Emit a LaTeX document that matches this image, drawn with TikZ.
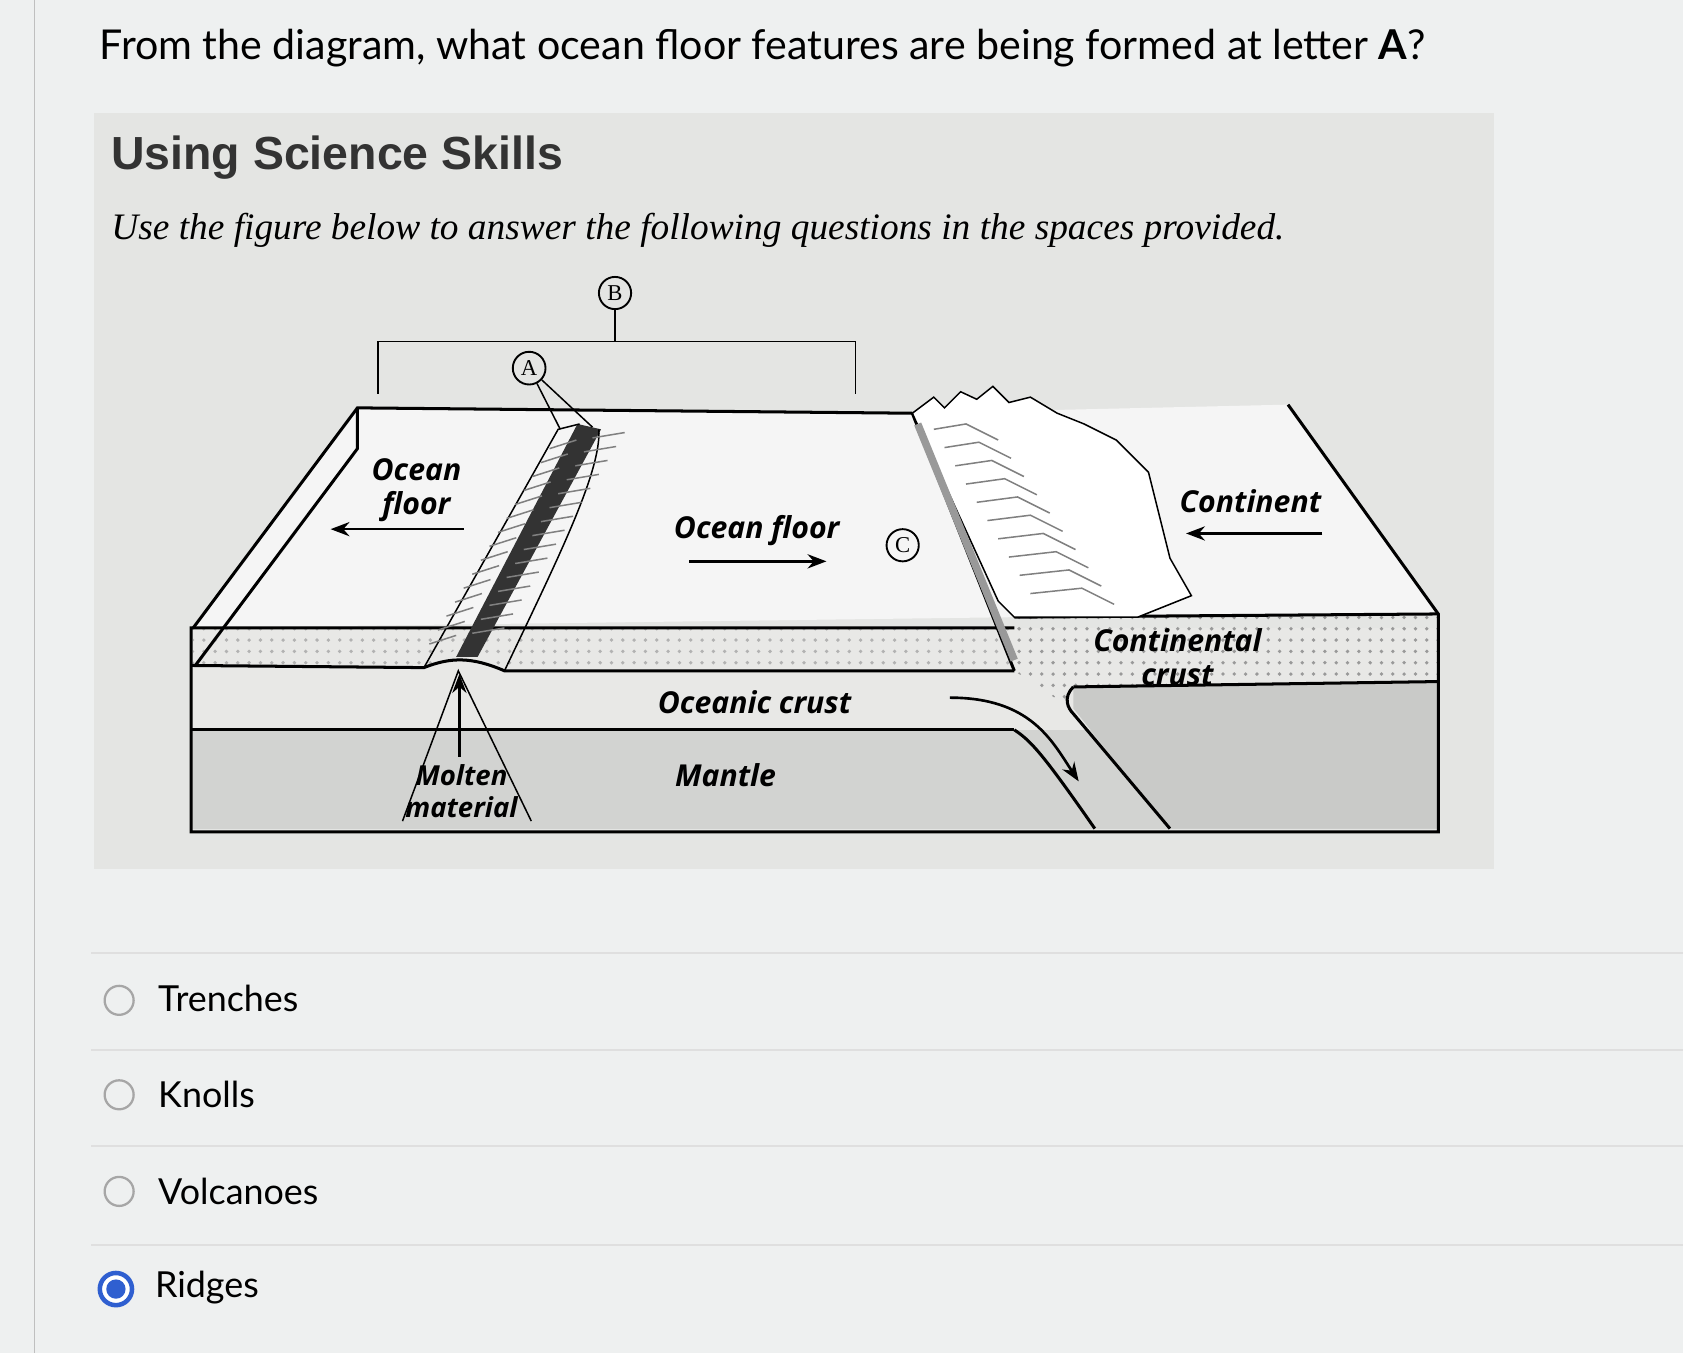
\documentclass[tikz,border=0pt]{standalone}
\usepackage{fontspec}
\setmainfont{Lato}
\newfontfamily\serifit{Liberation Serif}
\newfontfamily\lab{Open Sans}
\newfontfamily\heads{Liberation Sans}
\usetikzlibrary{arrows.meta,patterns}
\definecolor{pagebg}{HTML}{EEF0F0}
\definecolor{panel}{HTML}{E4E5E3}
\definecolor{mantle}{HTML}{D2D3D1}
\definecolor{crust}{HTML}{E8E8E6}
\definecolor{litho}{HTML}{C9CAC8}
\definecolor{radio}{HTML}{2F5FD0}
\tikzset{
 lbl/.style={font=\lab\fontsize{8}{9}\selectfont\bfseries\itshape, align=center, inner sep=1pt},
 circlbl/.style={circle, draw, line width=0.5pt, inner sep=1pt, minimum size=0.3cm, font=\serifit\fontsize{6}{6}\selectfont},
 opt/.style={font=\fontsize{9.5}{10}\selectfont, anchor=west},
 radioc/.style={circle, draw=gray!70, line width=0.6pt, minimum size=0.27cm, inner sep=0pt},
 sep/.style={draw=gray!25, line width=0.5pt},
 edge/.style={line width=0.8pt},
 arr/.style={-{Stealth[length=5pt]}, line width=0.7pt}
}
\begin{document}
\begin{tikzpicture}[x=0.01cm,y=-0.01cm]
\useasboundingbox (0,0) rectangle (1568,1261);
\fill[pagebg] (0,0) rectangle (1568,1261);
\draw[gray!50] (32,0) -- (32,1261);
\node[anchor=west, inner sep=0pt, font=\fontsize{10.9}{12}\selectfont] (q) at (92,45) {From the diagram, what ocean floor features are being formed at letter \textbf{A}?};
\fill[panel] (88,105) rectangle (1392,810);
\node[anchor=west, inner sep=0pt, font=\heads\fontsize{12.3}{14}\selectfont\bfseries, text=black!80] (h) at (103,147) {Using Science Skills};
\node[anchor=west, inner sep=0pt, font=\serifit\fontsize{9.9}{12}\selectfont\itshape] (s) at (103,215) {Use the figure below to answer the following questions in the spaces provided.};
% B bracket
\node[circlbl] (B) at (573,273) {B};
\coordinate (bt) at (573,318);
\draw (B) -- (bt);
\draw (352,367) -- (352,318) -- (797,318) -- (797,367);
% front face layers
\fill[crust] (180,585) rectangle (1340,680);
\fill[mantle] (178,680) rectangle (1340,772);
\fill[pattern=dots, pattern color=gray!80] (945,575) -- (1340,572) -- (1340,635) -- (1000,640) -- (990,655) -- (945,625) -- cycle;
\fill[litho] (1000,640) -- (1340,635) -- (1340,772) -- (1090,772) -- (1000,660) -- cycle;
% top face
\fill[white!92!gray] (333,380) -- (850,385) -- (1200,377) -- (1340,572) -- (945,575) -- (180,585) -- cycle;
\fill[pattern=dots, pattern color=gray!60] (180,620) -- (400,625) -- (430,600) -- (470,625) -- (945,625) -- (945,585) -- (180,585) -- cycle;
% outlines
\draw[edge] (180,585) -- (333,380) -- (850,385);
\draw[edge] (1200,377) -- (1340,572) -- (1340,775) -- (178,775) -- (178,585) -- (180,585) -- (945,585);
\draw[edge] (333,380) -- (333,418) -- (182,620);
\draw[edge] (178,620) -- (395,622) .. controls (420,612) and (440,612) .. (470,625) -- (945,625);
\draw[edge] (178,680) -- (945,680);
\draw[edge] (945,575) -- (1340,572);
\draw[edge] (1000,640) -- (1340,635);
\draw[edge] (1000,640) .. controls (990,650) and (995,660) .. (1000,665) -- (1090,772);
\draw[edge] (945,680) .. controls (960,690) and (970,700) .. (1020,772);
\draw[edge] (850,385) -- (945,625);
% ridge
\fill[black!80] (425,612) -- (538,395) -- (560,400) -- (445,612) -- cycle;
\draw (395,622) -- (520,400) -- (540,395);
\draw (470,625) .. controls (520,520) and (560,440) .. (558,400);
\foreach \i in {0,...,14}{
 \draw[gray] ({440+\i*8},{590-\i*13}) -- ({470+\i*8},{585-\i*13});
 \draw[gray] ({400+\i*8},{600-\i*13}) -- ({425+\i*8},{592-\i*13});
}
% molten
\draw (375,765) -- (427,625) -- (495,765);
% mountains
\draw[fill=white] (850,385) -- (870,370) -- (880,380) -- (895,365) -- (910,372) -- (925,360) -- (940,375) -- (960,370) -- (985,385) -- (1010,395) -- (1040,410) -- (1070,440) -- (1080,480) -- (1090,520) -- (1110,555) -- (1060,575) -- (945,575) -- (930,560) -- cycle;
\foreach \i in {0,...,9}{
 \draw[gray] ({870+\i*10},{400+\i*17}) -- ({900+\i*12},{395+\i*17}) -- ({930+\i*12},{410+\i*17});
}
\draw[gray!80,line width=2pt] (855,395) -- (945,615);
% A
\node[circlbl] (A) at (493,343) {A};
\coordinate (a1) at (522,400); \coordinate (a2) at (552,398);
\draw (A) -- (a1); \draw (A) -- (a2);
\node[circlbl] (C) at (841,508) {C};
% labels
\node[lbl] (of1) at (388,457) {Ocean\\floor};
\coordinate (of1a) at (432,493); \coordinate (of1b) at (308,493);
\draw[arr] (of1a) -- (of1b);
\node[lbl] (of2) at (705,494) {Ocean floor};
\coordinate (of2a) at (642,523); \coordinate (of2b) at (770,523);
\draw[arr] (of2a) -- (of2b);
\node[lbl] (cont) at (1165,467) {Continent};
\coordinate (ca) at (1232,497); \coordinate (cb) at (1105,497);
\draw[arr] (ca) -- (cb);
\node[lbl] (cc) at (1097,612) {Continental\\crust};
\node[lbl] (oc) at (703,654) {Oceanic crust};
\node[lbl] (ma) at (676,722) {Mantle};
\node[lbl, font=\lab\fontsize{7.3}{8.5}\selectfont\bfseries\itshape] (mo) at (430,737) {Molten\\material};
\coordinate (mb) at (428,705);
\coordinate (mt) at (428,628);
\draw[arr] (mb) -- (mt);
\coordinate (s1) at (885,650); \coordinate (s2) at (1005,728);
\draw[arr] (s1) .. controls (960,650) and (980,690) .. (s2);
% options
\foreach \y in {888,978,1068,1160}{\draw[sep] (85,\y) -- (1568,\y);}
\node[radioc] (r1) at (111,932) {};
\node[opt] (t1) at (135,930) {Trenches};
\node[radioc] (r2) at (111,1020) {};
\node[opt] (t2) at (135,1020) {Knolls};
\node[radioc] (r3) at (111,1110) {};
\node[opt] (t3) at (135,1110) {Volcanoes};
\node[circle, draw=radio, line width=1.2pt, minimum size=0.3cm, inner sep=0pt, fill=white] (r4) at (108,1201) {};
\fill[radio] (r4) circle (9);
\node[opt] (t4) at (132,1200) {Ridges};
\end{tikzpicture}
\end{document}
